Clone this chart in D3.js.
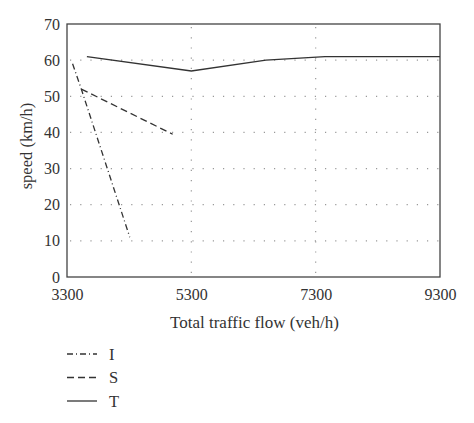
<!DOCTYPE html>
<html><head><meta charset="utf-8">
<script src="https://cdn.jsdelivr.net/npm/d3@7"></script>
<style>body{margin:0;background:#fff}</style>
</head><body>
<svg id="c" width="474" height="423"></svg>
<script>
const xTicks = [3300, 5300, 7300, 9300];
const yTicks = [0, 10, 20, 30, 40, 50, 60, 70];
const seriesNames = ["I", "S", "T"];
const seriesI = [[3390, 59], [3530, 52], [4310, 11]];
const seriesS = [[3530, 52], [5000, 39.5]];
const seriesT = [[3620, 61], [5300, 57], [6500, 60], [7450, 61], [9300, 61]];
const dashes = ["6,3,1,3", "7,4", null];

const svg = d3.select("#c");
const m = {l: 67, r: 440, t: 24, b: 277};
const x = d3.scaleLinear().domain([3300, 9300]).range([m.l, m.r]);
const y = d3.scaleLinear().domain([0, 70]).range([m.b, m.t]);
const font = "'Liberation Serif', 'Times New Roman', serif";

// grid
const g = svg.append("g");
g.selectAll(".hg").data(yTicks.filter(v => v > 0 && v < 70)).join("line")
  .attr("x1", m.l + 3).attr("x2", m.r).attr("y1", d => y(d)).attr("y2", d => y(d))
  .attr("stroke", "#999").attr("stroke-width", 1.2).attr("stroke-dasharray", "1.2,9");
g.selectAll(".vg").data(xTicks.filter(v => v > 3300 && v < 9300)).join("line")
  .attr("y1", m.t + 3).attr("y2", m.b).attr("x1", d => x(d)).attr("x2", d => x(d))
  .attr("stroke", "#999").attr("stroke-width", 1.2).attr("stroke-dasharray", "1.2,9");

// frame
svg.append("rect").attr("x", m.l).attr("y", m.t).attr("width", m.r - m.l).attr("height", m.b - m.t)
  .attr("fill", "none").attr("stroke", "#444").attr("stroke-width", 1.3);

// axes
const xa = svg.append("g").attr("transform", `translate(0,${m.b})`)
  .call(d3.axisBottom(x).tickValues(xTicks).tickSize(0).tickPadding(12).tickFormat(d3.format("d")));
const ya = svg.append("g").attr("transform", `translate(${m.l},0)`)
  .call(d3.axisLeft(y).tickValues(yTicks).tickSize(0).tickPadding(7));
[xa, ya].forEach(a => {
  a.select(".domain").remove();
  a.selectAll("text").attr("font-family", font).attr("font-size", 16).attr("fill", "#333");
});

// titles
svg.append("text").attr("x", (m.l + m.r) / 2 + 1).attr("y", 328).attr("text-anchor", "middle")
  .attr("font-family", font).attr("font-size", 17).attr("fill", "#333").text("Total traffic flow (veh/h)");
svg.append("text").attr("transform", "translate(32,146) rotate(-90)").attr("text-anchor", "middle")
  .attr("font-family", font).attr("font-size", 16.5).attr("fill", "#333").text("speed (km/h)");

// lines
const line = d3.line().x(d => x(d[0])).y(d => y(d[1]));
[seriesI, seriesS, seriesT].forEach((s, i) => {
  svg.append("path").datum(s).attr("d", line).attr("fill", "none")
    .attr("stroke", "#333").attr("stroke-width", 1.3)
    .attr("stroke-dasharray", dashes[i]);
});

// legend
const lg = svg.append("g");
seriesNames.forEach((n, i) => {
  const yy = 354 + i * 23.5;
  lg.append("line").attr("x1", 67).attr("x2", 97).attr("y1", yy).attr("y2", yy)
    .attr("stroke", "#333").attr("stroke-width", 1.3).attr("stroke-dasharray", dashes[i]);
  lg.append("text").attr("x", 109).attr("y", yy + 5.5).attr("font-family", font).attr("font-size", 16.5)
    .attr("fill", "#333").text(n);
});
</script>
</body></html>
